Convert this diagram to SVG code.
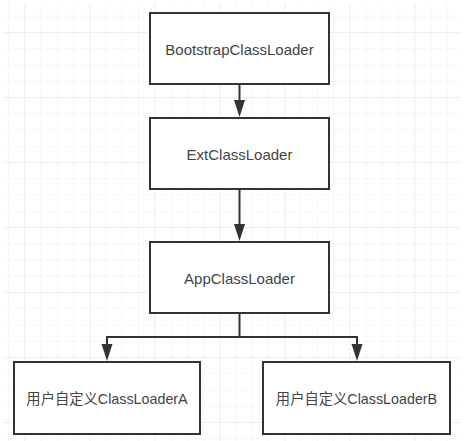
<svg xmlns="http://www.w3.org/2000/svg" width="474" height="441" viewBox="0 0 474 441">
<defs>
<style>
.box{fill:#ffffff;stroke:#333333;stroke-width:2}
.lbl{font-family:"Liberation Sans","Noto Sans CJK SC",sans-serif;font-size:15px;fill:#444444;text-anchor:middle;dominant-baseline:central}
.sm{font-size:14.3px}
.conn{fill:none;stroke:#333333;stroke-width:2}
.head{fill:#333333}
</style>
<pattern id="minor" x="8" y="-0.5" width="16.25" height="16.25" patternUnits="userSpaceOnUse">
<path d="M0 0V16.25M0 0H16.25" fill="none" stroke="#efefef" stroke-width="1"/>
</pattern>
<pattern id="major" x="24.25" y="32" width="65" height="65" patternUnits="userSpaceOnUse">
<path d="M0 0V65M0 0H65" fill="none" stroke="#e6e6e6" stroke-width="1"/>
</pattern>
</defs>
<rect width="474" height="441" fill="#ffffff"/>
<rect x="3" y="3" width="458" height="438" fill="url(#minor)"/>
<rect x="3" y="3" width="458" height="438" fill="url(#major)"/>
<g id="connectors">
<path class="conn" d="M239.5 84V100"/>
<path class="head" d="M234 100L245 100L239.5 117Z"/>
<path class="conn" d="M239.5 189V224"/>
<path class="head" d="M234 224L245 224L239.5 241Z"/>
<path class="conn" d="M239.5 313V337M107 345V337H357V345"/>
<path class="head" d="M101.5 344L112.5 344L107 361Z"/>
<path class="head" d="M351.5 344L362.5 344L357 361Z"/>
</g>
<g id="bootstrap">
<rect class="box" x="150" y="13" width="179" height="71"/>
<text class="lbl" x="239.5" y="49">BootstrapClassLoader</text>
</g>
<g id="ext">
<rect class="box" x="150" y="118" width="179" height="71"/>
<text class="lbl" x="239.5" y="154">ExtClassLoader</text>
</g>
<g id="app">
<rect class="box" x="150" y="242" width="179" height="71"/>
<text class="lbl" x="239.5" y="278">AppClassLoader</text>
</g>
<g id="loaderA">
<rect class="box" x="14" y="362" width="186" height="72"/>
<text class="lbl sm" x="107" y="399">用户自定义ClassLoaderA</text>
</g>
<g id="loaderB">
<rect class="box" x="263" y="362" width="187" height="72"/>
<text class="lbl sm" x="356.5" y="399">用户自定义ClassLoaderB</text>
</g>
</svg>
